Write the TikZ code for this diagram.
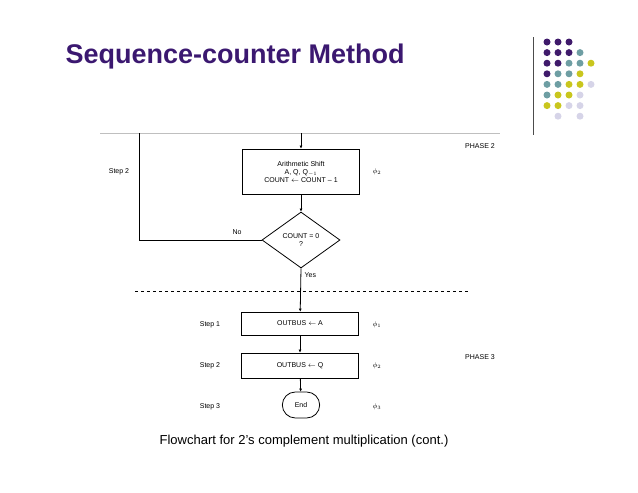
\documentclass[tikz,border=0pt]{standalone}
\usepackage{fontspec}
\setmainfont{Liberation Sans}
\usetikzlibrary{shapes.geometric,shapes.misc,arrows.meta}
\definecolor{titlepurple}{HTML}{3B1870}
\definecolor{dotP}{HTML}{3F1A6B}
\definecolor{dotT}{HTML}{6E9EA3}
\definecolor{dotY}{HTML}{C9C61E}
\definecolor{dotL}{HTML}{D6D4E8}
\definecolor{dotN}{HTML}{FFFFFF}
\begin{document}
\begin{tikzpicture}[x=1pt,y=-1pt,
                    box/.style={draw, thick, rectangle, minimum width=117pt, align=center, font=\fontsize{7}{8}\selectfont, inner sep=1pt},
                    dec/.style={draw, thick, diamond, aspect=1.4, minimum width=78pt, minimum height=56pt, inner sep=0pt, align=center, font=\fontsize{7}{8}\selectfont},
                    term/.style={draw, thick, rounded rectangle, minimum width=44pt, minimum height=26pt, font=\fontsize{7}{8}\selectfont},
                    lbl/.style={font=\fontsize{7}{8}\selectfont},
                    arrow/.style={draw, thick, -{Latex[length=3pt,width=3pt]}},
                    dot/.style={circle, inner sep=0pt, minimum size=7pt}]
  \useasboundingbox (0,0) rectangle (638,493);
  \node(title)[anchor=west, font=\fontsize{27}{30}\bfseries\selectfont, text=titlepurple] at (62,57) {Sequence-counter Method};
  % logo
  \draw[thick, black!70] (533,37) -- (533,135);
  \foreach \row [count=\r from 0] in {{P,P,P,N,N},{P,P,P,T,N},{P,P,T,T,Y},{P,T,T,Y,N},{T,T,Y,Y,L},{T,Y,Y,L,N},{Y,Y,L,L,N},{N,L,N,L,N}}{
    \foreach \c [count=\k from 0] in \row {
      \node[dot, fill=dot\c] at (547+11*\k, 42+10.6*\r) {};
    }
  }
  % flowchart
  \draw[black!25] (100,133) -- (500,133);
  \coordinate (top) at (301,133);
  \coordinate (loop) at (139,133);
  \node(shift)[box, minimum height=45pt] at (301,171.5) {Arithmetic Shift\\A, Q, Q$_{-1}$\\COUNT $\leftarrow$ COUNT -- 1};
  \node(cnt)[dec] at (301,240) {COUNT = 0\\?};
  \node(outa)[box, minimum height=23pt] at (300,323.5) {OUTBUS $\leftarrow$ A};
  \node(outq)[box, minimum height=25pt] at (300,365.5) {OUTBUS $\leftarrow$ Q};
  \node(stop)[term] at (301,405) {End};
  \draw[arrow] (top) -- (shift);
  \draw[arrow] (shift) -- (cnt);
  \draw[thick] (cnt.west) -- (139,240) node[lbl, pos=0.2, above=2pt]{No} -- (loop);
  \draw[arrow] (cnt.south) -- (outa) node[lbl, pos=0.15, right]{Yes};
  \draw[arrow] (outa) -- (outq);
  \draw[arrow] (outq) -- (stop);
  \draw[thick, dashed] (135,291) -- (468,291);
  % side labels
  \node(s0)[lbl] at (119,172) {Step 2};
  \node(s1)[lbl] at (210,325) {Step 1};
  \node(s2)[lbl] at (210,366) {Step 2};
  \node(s3)[lbl] at (210,407) {Step 3};
  \node(f0)[lbl] at (377,172) {$\phi_2$};
  \node(f1)[lbl] at (377,325) {$\phi_1$};
  \node(f2)[lbl] at (377,366) {$\phi_2$};
  \node(f3)[lbl] at (377,407) {$\phi_3$};
  \node(ph2)[lbl] at (480,146) {PHASE 2};
  \node(ph3)[lbl] at (480,357) {PHASE 3};
  \node(cap)[font=\fontsize{13}{15}\selectfont] at (304,441) {Flowchart for 2’s complement multiplication (cont.)};
\end{tikzpicture}
\end{document}
